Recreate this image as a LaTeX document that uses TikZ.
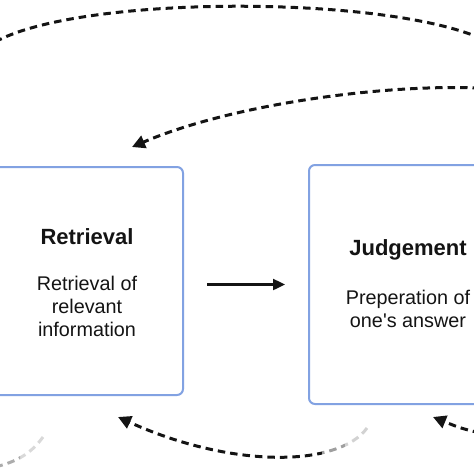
\documentclass[tikz,border=0pt]{standalone}
\usepackage{fontspec}
\setmainfont{Liberation Sans}
\usetikzlibrary{arrows.meta}
\definecolor{boxblue}{RGB}{130,162,226}
\definecolor{ink}{RGB}{20,20,20}
\tikzset{
  stagebox/.style={draw=boxblue, line width=2pt, rounded corners=6pt, fill=white, inner sep=0pt},
  titletext/.style={font=\fontsize{22}{26}\selectfont\bfseries, text=ink},
  bodytext/.style={font=\fontsize{19.8}{23}\selectfont, text=ink, align=center},
  flowarrow/.style={draw=ink, line width=2.4pt, -{Triangle[length=12pt,width=11pt]}},
  loopline/.style={draw=ink, line width=3pt, dash pattern=on 7.5pt off 5pt},
  loophead/.style={-{Triangle[length=13pt,width=13pt]}},
}
\begin{document}
\begin{tikzpicture}[x=1pt,y=-1pt]
\useasboundingbox (0,0) rectangle (474,474);
\clip (0,0) rectangle (474,474);
% boxes
\node[stagebox, minimum width=192pt, minimum height=228pt] (ret) at (87,281) {};
\node[stagebox, minimum width=198pt, minimum height=239pt] (jud) at (408,284.5) {};
\node[titletext] (rett) at (87,237) {Retrieval};
\node[bodytext] (retb) at (87,306) {Retrieval of\\relevant\\information};
\node[titletext] (judt) at (408,250) {Judgement};
\node[bodytext] (judb) at (408,308.5) {Preperation of\\one\textquotesingle s answer};
% main arrow
\draw[flowarrow, shorten <=23pt, shorten >=23pt] (ret.east |- jud.west) -- (jud.west);
% free ends of loop connectors
\coordinate (a1) at (-5,42);
\coordinate (a2) at (480,38);
\coordinate (b1) at (480,88);
\coordinate (b2) at (132,147);
\coordinate (c1) at (367,428);
\coordinate (c2) at (118,417);
\coordinate (d1) at (43,437);
\coordinate (d2) at (-5,467);
\coordinate (e1) at (480,433);
\coordinate (e2) at (433,417);
% top arc
\draw[loopline] (a1) .. controls (80,-5) and (380,-5) .. (a2);
% second arc
\draw[loopline, loophead] (b1) .. controls (380,84) and (230,105) .. (b2);
% bottom middle arc, fading in from the right
\begin{scope}
  \clip (0,380) rectangle (322,474);
  \draw[loopline, loophead] (c1) .. controls (338,468) and (230,468) .. (c2);
\end{scope}
\begin{scope}
  \clip (322,380) rectangle (345,474);
  \draw[loopline, draw=gray!75] (c1) .. controls (338,468) and (230,468) .. (c2);
\end{scope}
\begin{scope}
  \clip (345,380) rectangle (474,474);
  \draw[loopline, draw=gray!35] (c1) .. controls (338,468) and (230,468) .. (c2);
\end{scope}
% bottom left faded arc
\begin{scope}
  \clip (20,380) rectangle (60,474);
  \draw[loopline, draw=gray!30] (d1) .. controls (30,455) and (15,462) .. (d2);
\end{scope}
\begin{scope}
  \clip (0,380) rectangle (20,474);
  \draw[loopline, draw=gray!65] (d1) .. controls (30,455) and (15,462) .. (d2);
\end{scope}
% bottom right arrow
\draw[loopline, loophead] (e1) .. controls (460,428) .. (e2);
\end{tikzpicture}
\end{document}
